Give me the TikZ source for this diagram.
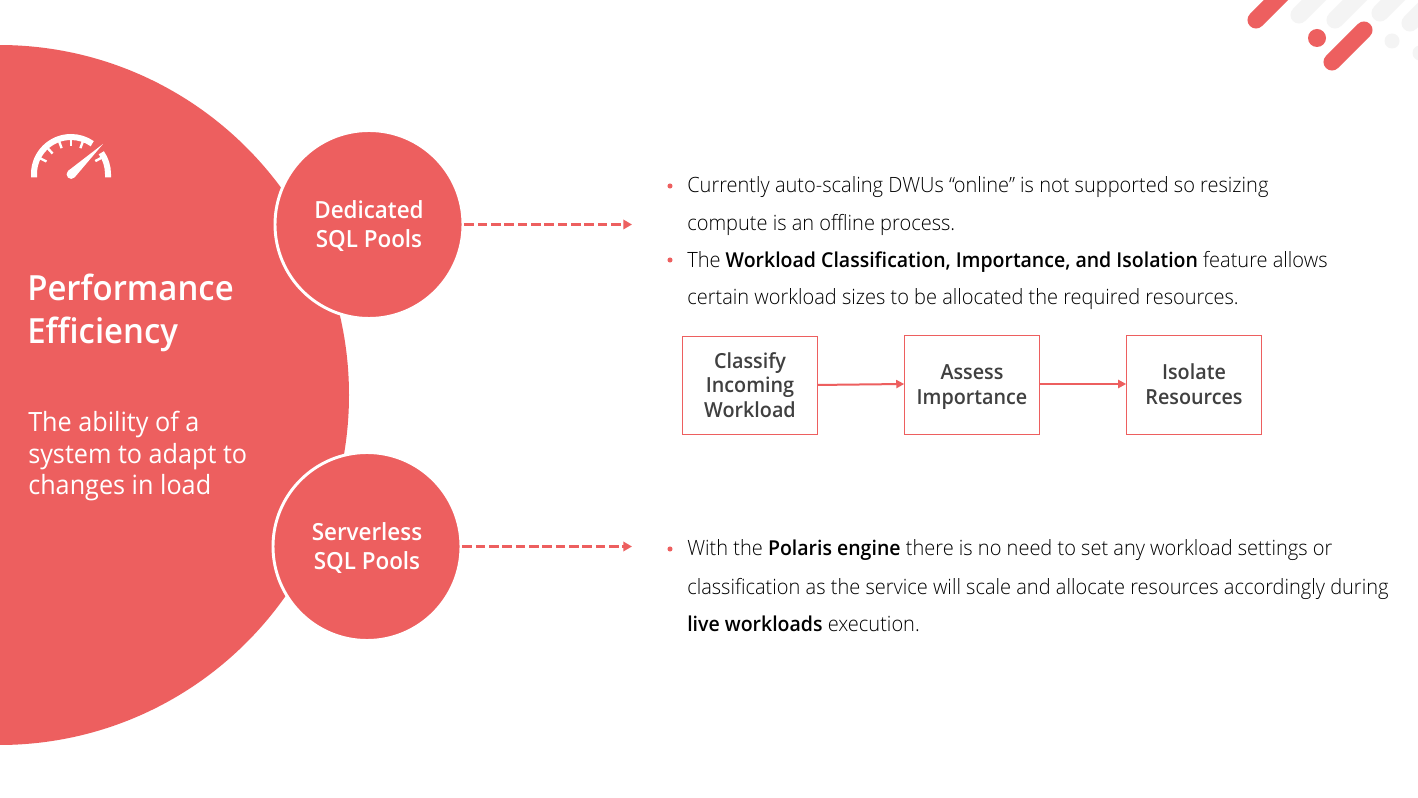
\documentclass[tikz,border=0pt]{standalone}
\usepackage{fontspec}
\usetikzlibrary{arrows.meta}
\setmainfont{Open Sans}[FakeStretch=0.95]
\newfontfamily\lightf{Open Sans Light}[FakeStretch=0.95]
\newfontfamily\semif{Open Sans Semibold}[FakeStretch=0.95]
\definecolor{coral}{HTML}{ED5F5F}
\definecolor{paleg}{HTML}{F4F4F4}
\definecolor{boxtext}{HTML}{404040}
\newcommand{\lowline}[1]{\raisebox{-1.5pt}[\height][\depth]{\vphantom{Ag}#1}}
\newcommand{\bodysemi}[1]{{\semif\fontsize{15.4}{18}\selectfont #1}}
\tikzset{
 x=0.75pt,y=-0.75pt,
 bodyline/.style={anchor=base west,inner sep=0,font=\lightf\fontsize{15.8}{18}\selectfont,text=black},
 bulletmark/.style={circle,fill=coral,inner sep=0,minimum size=3.8pt},
 poolcircle/.style={circle,fill=coral,draw=white,line width=2.2pt,minimum size=141pt,inner sep=0,align=center,text=white,font=\semif\fontsize{17.7}{21.8}\selectfont},
 flowbox/.style={draw=coral,line width=0.75pt,fill=white,minimum width=100.9pt,inner sep=0,align=center,text=boxtext,font=\semif\fontsize{15.6}{18.7}\selectfont},
 dasharrow/.style={draw=coral,line width=2.25pt,dash pattern=on 7.2pt off 2.8pt,-{Triangle[length=6.5pt,width=7pt,fill=coral]}},
 flowarrow/.style={draw=coral,line width=1.5pt,-{Triangle[length=6pt,width=6pt,fill=coral]}},
 redpill/.style={draw=coral,line width=12.8pt,line cap=round},
 greypill/.style={draw=paleg,line width=12.8pt,line cap=round},
 whitetext/.style={anchor=base west,inner sep=0,text=white},
}
\begin{document}
\begin{tikzpicture}
\useasboundingbox (0,0) rectangle (1418,798);
\clip (0,0) rectangle (1418,798);
\fill[white] (0,0) rectangle (1418,798);
% corner decoration
\draw[greypill] (1299,15) -- (1330,-16);
\draw[greypill] (1335,20) -- (1380,-25);
\draw[greypill] (1380,13) -- (1410,-17);
\draw[greypill] (1410,23) -- (1445,-12);
\fill[paleg] (1392,41) circle[radius=7.5];
\fill[paleg] (1420,53) circle[radius=7.5];
\draw[redpill] (1256,20) -- (1290,-14);
\draw[redpill] (1332,62) -- (1364,30);
\fill[coral] (1317,38) circle[radius=9];
% big circle
\fill[coral] (-1,395) circle[radius=350];
% gauge
\draw[white,line width=4.5pt,line cap=butt] (34,177.5) -- (34,174) arc[start angle=180,end angle=305,radius=37];
\draw[white,line width=4.5pt,line cap=butt] (108,177.5) -- (108,174) arc[start angle=0,end angle=-35,radius=37];
\foreach \a in {28,70,90,110,132,153}{
  \draw[white,line width=1.8pt] ({71+35*cos(\a)},{174-35*sin(\a)}) -- ({71+27.5*cos(\a)},{174-27.5*sin(\a)});
}
\fill[white] (71.2,174.3) circle[radius=4.6];
\fill[white] (68.2,170.8) -- (103,144) -- (74.7,177.3) -- cycle;
% left texts
\node[whitetext,font=\semif\fontsize{26}{32}\selectfont] (t1) at (27,301) {Performance};
\node[whitetext,font=\semif\fontsize{26}{32}\selectfont] (t2) at (27,344) {Efficiency};
\node[whitetext,font=\fontsize{19.9}{24}\selectfont] (s1) at (28,432) {The ability of a};
\node[whitetext,font=\fontsize{19.9}{24}\selectfont] (s2) at (28,464) {system to adapt to};
\node[whitetext,font=\fontsize{19.9}{24}\selectfont] (s3) at (28,495) {changes in load};
% pool circles
\node[poolcircle] (ded) at (369,224.5) {\lowline{Dedicated}\\\lowline{SQL Pools}};
\node[poolcircle] (srv) at (367,546.5) {\lowline{Serverless}\\\lowline{SQL Pools}};
\coordinate (e1) at (632,224.5);
\coordinate (e2) at (632,546.5);
\draw[dasharrow] (ded.east) -- (e1);
\draw[dasharrow] (srv.east) -- (e2);
% bullets
\node[bulletmark] (b1) at (670,186) {};
\node[bulletmark] (b2) at (670,260) {};
\node[bulletmark] (b3) at (670,549) {};
\node[bodyline] (l1) at (687,193) {Currently auto-scaling DWUs “online” is not supported so resizing};
\node[bodyline] (l2) at (687,231) {compute is an offline process.};
\node[bodyline] (l3) at (687,268) {The \bodysemi{Workload Classification, Importance, and Isolation} feature allows};
\node[bodyline] (l4) at (687,305) {certain workload sizes to be allocated the required resources.};
\node[bodyline] (l5) at (687,556) {With the \bodysemi{Polaris engine} there is no need to set any workload settings or};
\node[bodyline] (l6) at (687,594) {classification as the service will scale and allocate resources accordingly during};
\node[bodyline] (l7) at (687,631) {\bodysemi{live workloads} execution.};
% flow
\node[flowbox,minimum height=73.5pt] (c) at (750,385.5) {\lowline{Classify}\\\lowline{Incoming}\\\lowline{Workload}};
\node[flowbox,minimum height=74.25pt] (a) at (972,385) {\lowline{Assess}\\\lowline{Importance}};
\node[flowbox,minimum height=74.25pt] (i) at (1194,385) {\lowline{Isolate}\\\lowline{Resources}};
\draw[flowarrow] ([yshift=0.4pt]c.east) -- ([yshift=0.75pt]a.west);
\draw[flowarrow] ([yshift=0.75pt]a.east) -- ([yshift=0.75pt]i.west);
\end{tikzpicture}
\end{document}
